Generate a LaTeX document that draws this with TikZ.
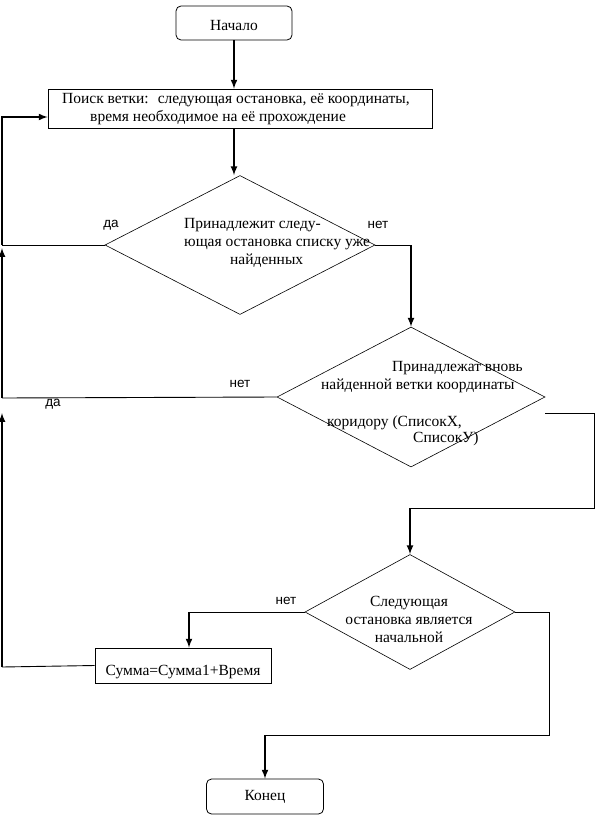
\documentclass[tikz,border=0pt]{standalone}
\usepackage{fontspec}
\setmainfont{Liberation Serif}
\newfontfamily\yesnofont{Liberation Sans}
\usetikzlibrary{shapes.geometric, arrows}

\begin{document}
\begin{tikzpicture}[x=1pt, y=-1pt,
  font=\fontsize{15.5}{18}\selectfont,
  block/.style={draw, line width=0.8pt, inner sep=0pt},
  endblock/.style={block, rounded corners=5pt},
  cond/.style={draw, diamond, line width=0.6pt, inner sep=0pt},
  txt/.style={inner sep=0pt, align=left},
  yesno/.style={inner sep=0pt, font=\yesnofont\fontsize{13.5}{15}\selectfont},
  link/.style={line width=0.9pt},
  arr/.style={line width=2pt, -latex}]
\useasboundingbox (0,0) rectangle (597,824);
% blocks
\node[endblock, minimum width=116pt, minimum height=34pt, text height=15.5pt, text depth=0pt] (start) at (234,23) {Начало};
\node[block, minimum width=384pt, minimum height=39pt] (search) at (240,108.5) {};
\node[txt, anchor=west] (searchtext) at (62,109) {Поиск ветки:~ следующая остановка, её координаты,\\\hspace*{28pt}время необходимое на её прохождение};
\node[cond, minimum width=270pt, minimum height=139pt] (belongs) at (240,245) {};
\node[txt, anchor=west] (belongstext) at (184,243) {Принадлежит следу-\\ющая остановка списку уже\\\hspace*{46pt}найденных};
\node[cond, minimum width=268pt, minimum height=140pt] (corridor) at (411,397) {};
\node[txt, anchor=west] (corr1) at (392,368) {Принадлежат вновь};
\node[txt, anchor=west] (corr2) at (321,386) {найденной ветки координаты};
\node[txt, anchor=west] (corr3) at (327,423) {коридору (СписокХ,};
\node[txt, anchor=west] (corr4) at (413,439) {СписокУ)};
\node[cond, minimum width=210pt, minimum height=115pt] (first) at (410,612) {};
\node[txt, align=center] (firsttext) at (409,619) {Следующая\\остановка является\\начальной};
\node[block, minimum width=176pt, minimum height=35pt, text height=19pt, text depth=0pt] (sum) at (183,665.5) {Сумма=Сумма1+Время};
\node[endblock, minimum width=117pt, minimum height=35pt] (finish) at (265,796.5) {Конец};
% yes / no
\node[yesno] (yes1) at (111,225) {да};
\node[yesno] (no1) at (378,225) {нет};
\node[yesno] (no2) at (240,384) {нет};
\node[yesno] (yes2) at (53,404) {да};
\node[yesno] (no3) at (286,601) {нет};
% left rail
\coordinate (railtop) at (2,117);
\coordinate (rail1) at (2,245);
\coordinate (rail2) at (2,398);
\coordinate (rail3) at (2,667);
\coordinate (turn2) at (594,508);
\coordinate (turn3) at (189,612);
\coordinate (turn4) at (549,735);
\coordinate (out2) at ([yshift=-16pt]corridor.east);
% connectors
\draw[arr] (start) -- (start |- search.north);
\draw[arr] (search.south -| start) -- (belongs.north -| start);
\draw[link] (belongs.west) -- (rail1);
\draw[arr] (rail1) -- (railtop) -- (railtop -| search.west);
\draw[link] (corridor.west) -- (rail2);
\draw[arr] (rail2) -- ([yshift=-3pt]rail1);
\draw[link] (sum.west) -- (rail3);
\draw[arr] (rail3) -- ([yshift=-15pt]rail2);
\draw[link] (belongs.east) -- (belongs.east -| corridor.north);
\draw[arr] (belongs.east -| corridor.north) -- (corridor.north);
\draw[link] (out2) -- (out2 -| turn2) -- (turn2) -- (turn2 -| first.north);
\draw[arr] (turn2 -| first.north) -- (first.north);
\draw[link] (first.west) -- (turn3);
\draw[arr] (turn3) -- (turn3 |- sum.north);
\draw[link] (first.east) -- (first.east -| turn4) -- (turn4) -- (turn4 -| finish.north);
\draw[arr] (turn4 -| finish.north) -- (finish.north);
\end{tikzpicture}
\end{document}
